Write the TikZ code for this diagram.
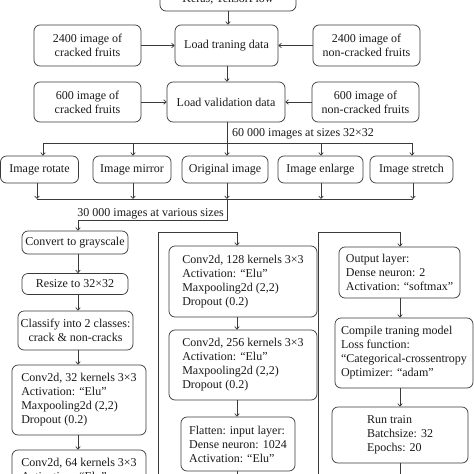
\documentclass[tikz,border=0pt]{standalone}
\usepackage{fontspec}
\setmainfont{Liberation Serif}
\usetikzlibrary{arrows.meta}
\definecolor{lc}{HTML}{3A3A3A}
\definecolor{tc}{HTML}{1A1A1A}
\newcommand\figfont{\fontsize{12}{14}\selectfont}
\begin{document}
\begin{tikzpicture}[x=1pt,y=-1pt,
  box/.style={draw=lc, line width=0.7pt, rounded corners=6pt, inner sep=1pt, align=center, font=\figfont, text=tc},
  lbox/.style={box, align=left},
  ln/.style={draw=lc, line width=0.7pt},
  arr/.style={ln, -{Straight Barb[length=2.5pt,width=4.5pt]}},
  lab/.style={font=\figfont, text=tc, inner sep=0pt}]
\fill[white] (0,0) rectangle (474,474);
\useasboundingbox (0,0) rectangle (474,474);

% top part
\node[box, minimum width=136pt, minimum height=23pt] (top) at (228,-0.5) {Keras, TensorFlow};
\node[box, minimum width=103pt, minimum height=41pt] (train) at (226.5,45.5) {Load traning data};
\node[box, minimum width=107pt, minimum height=41pt] (c24) at (87.5,45.5) {2400 image of\\cracked fruits};
\node[box, minimum width=107pt, minimum height=41pt] (n24) at (366.5,45.5) {2400 image of\\non-cracked fruits};
\node[box, minimum width=118pt, minimum height=40pt] (val) at (226,102) {Load validation data};
\node[box, minimum width=107pt, minimum height=40pt] (c6) at (87.5,102) {600 image of\\cracked fruits};
\node[box, minimum width=107pt, minimum height=40pt] (n6) at (365.5,102) {600 image of\\non-cracked fruits};

\coordinate (ax) at (227,0);
\draw[arr] (top.south) -- (top.south |- train.north);
\draw[arr] (c24) -- (train);
\draw[arr] (n24) -- (train);
\draw[arr] (train.south -| ax) -- (val.north -| ax);
\draw[arr] (c6) -- (val);
\draw[arr] (n6) -- (val);

% augmentation row
\node[box, minimum width=78pt, minimum height=27pt] (rot) at (39.5,169.5) {Image rotate};
\node[box, minimum width=78pt, minimum height=27pt] (mir) at (132,169.5) {Image mirror};
\node[box, minimum width=86pt, minimum height=27pt] (orig) at (225,169.5) {Original image};
\node[box, minimum width=85pt, minimum height=27pt] (enl) at (320.5,169.5) {Image enlarge};
\node[box, minimum width=83pt, minimum height=27pt] (str) at (411.5,169.5) {Image stretch};

\coordinate (t1) at (43,143);
\coordinate (t2) at (133,143);
\coordinate (t3) at (227,143);
\coordinate (t4) at (321,143);
\coordinate (t5) at (412,143);
\draw[ln] (val.south -| t3) -- (t3);
\node[lab, anchor=base west] (lab60) at (232,136) {60 000 images at sizes 32×32};
\draw[ln] (t1) -- (t5);
\draw[arr] (t1) -- (t1 |- rot.north);
\draw[arr] (t2) -- (t2 |- mir.north);
\draw[arr] (t3) -- (t3 |- orig.north);
\draw[arr] (t4) -- (t4 |- enl.north);
\draw[arr] (t5) -- (t5 |- str.north);

\coordinate (b1) at (37,199);
\coordinate (b2) at (133,199);
\coordinate (b3) at (227,199);
\coordinate (b4) at (321,199);
\coordinate (b5) at (413,199);
\draw[ln] (b1) -- (b5);
\draw[arr] (b1 |- rot.south) -- (b1);
\draw[arr] (b2 |- mir.south) -- (b2);
\draw[arr] (b3 |- orig.south) -- (b3);
\draw[arr] (b4 |- enl.south) -- (b4);
\draw[arr] (b5 |- str.south) -- (b5);

% column 1
\node[box, minimum width=106pt, minimum height=23pt] (gray) at (75,242.5) {Convert to grayscale};
\node[box, minimum width=106pt, minimum height=21pt] (resize) at (75,284) {Resize to 32×32};
\node[box, minimum width=115pt, minimum height=39pt] (classify) at (75.5,330.5) {Classify into 2 classes:\\crack \& non-cracks};
\node[lbox, minimum width=134pt, minimum height=70pt] (conv32) at (79,400) {Conv2d, 32 kernels 3×3\\Activation: “Elu”\\Maxpooling2d (2,2)\\Dropout (0.2)};
\node[lbox, minimum width=134pt, minimum height=70pt] (conv64) at (79,485) {Conv2d, 64 kernels 3×3\\Activation: “Elu”\\Maxpooling2d (2,2)\\Dropout (0.2)};

\coordinate (m1) at (78,220);
\draw[arr] (b3) |- (m1) -- (gray.north -| m1);
\node[lab, anchor=base east] (lab30) at (224,216) {30 000 images at various sizes};
\draw[arr] (gray.south -| m1) -- (resize.north -| m1);
\draw[arr] (resize.south -| m1) -- (classify.north -| m1);
\draw[arr] (classify.south -| m1) -- (conv32.north -| m1);
\draw[arr] (conv32.south -| m1) -- (conv64.north -| m1);

% column 2
\node[lbox, minimum width=148pt, minimum height=71pt] (conv128) at (243,281.5) {Conv2d, 128 kernels 3×3\\Activation: “Elu”\\Maxpooling2d (2,2)\\Dropout (0.2)};
\node[lbox, minimum width=148pt, minimum height=70pt] (conv256) at (243,365) {Conv2d, 256 kernels 3×3\\Activation: “Elu”\\Maxpooling2d (2,2)\\Dropout (0.2)};
\node[lbox, minimum width=114pt, minimum height=54pt] (flatten) at (238,444) {Flatten: input layer:\\Dense neuron: 1024\\Activation: “Elu”};

\coordinate (c2x) at (237,0);
\coordinate (k1) at (158,232);
\coordinate (k1b) at (158,540);
\draw[arr] (conv64.south -| m1) |- (k1b) -- (k1) -| (conv128.north -| c2x);
\draw[arr] (conv128.south -| c2x) -- (conv256.north -| c2x);
\draw[arr] (conv256.south -| c2x) -- (flatten.north -| c2x);

% column 3
\node[lbox, minimum width=121pt, minimum height=51pt] (output) at (399.5,272.5) {Output layer:\\Dense neuron: 2\\Activation: “softmax”};
\node[lbox, minimum width=138pt, minimum height=70pt] (compile) at (404,353) {Compile traning model\\Loss function:\\“Categorical-crossentropy\\Optimizer: “adam”};
\node[lbox, minimum width=136pt, minimum height=56pt] (run) at (400,435) {Run train\\Batchsize: 32\\Epochs: 20};

\coordinate (c3x) at (400,0);
\coordinate (k2) at (318,232);
\coordinate (k2b) at (318,540);
\coordinate (endc) at (400,540);
\draw[arr] (flatten.south -| c2x) |- (k2b) -- (k2) -| (output.north -| c3x);
\draw[arr] (output.south -| c3x) -- (compile.north -| c3x);
\draw[arr] (compile.south -| c3x) -- (run.north -| c3x);
\draw[arr] (run.south -| c3x) -- (endc);
\end{tikzpicture}
\end{document}
